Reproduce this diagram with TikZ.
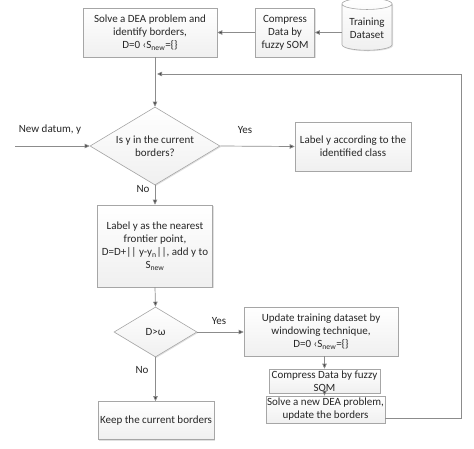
\documentclass[tikz,border=0pt]{standalone}
\usepackage{fontspec}
\setmainfont{Carlito}
\usetikzlibrary{shapes.geometric,arrows.meta,shadows}
\definecolor{bordergray}{HTML}{A6A6A6}
\definecolor{linegray}{HTML}{8C8C8C}
\definecolor{tipgray}{HTML}{404040}
\definecolor{txt}{HTML}{262626}
\begin{document}
\begin{tikzpicture}[x=1pt,y=-1pt,
  every node/.style={font=\fontsize{11}{13}\selectfont, text=txt},
  procbox/.style={draw=bordergray, line width=0.6pt, top color=white, bottom color=gray!12,
     drop shadow={shadow xshift=1pt, shadow yshift=-1pt, fill=gray!40, opacity=0.6},
     align=center, inner sep=1pt},
  decbox/.style={diamond, draw=bordergray, line width=0.6pt, top color=white, bottom color=gray!12,
     drop shadow={shadow xshift=1pt, shadow yshift=-1pt, fill=gray!40, opacity=0.6},
     align=center, inner sep=0pt, aspect=1.67},
  conn/.style={draw=linegray, line width=0.7pt, -{Triangle[length=5pt,width=4.5pt,fill=tipgray]}},
  plain/.style={draw=linegray, line width=0.7pt},
  lbl/.style={inner sep=1pt}
]
\useasboundingbox (0,0) rectangle (474,448);
% top row
\node[procbox, minimum width=134pt, minimum height=49pt] (solve) at (150,32.5)
  {Solve a DEA problem and\\identify borders,\\D=0 ‹S\textsubscript{new}=\{\}};
\node[procbox, minimum width=59pt, minimum height=49pt] (comp) at (285,32.5)
  {Compress\\Data by\\fuzzy SOM};
\node[cylinder, shape border rotate=90, draw=bordergray, line width=0.6pt,
  top color=white, bottom color=gray!12, aspect=0.3, minimum width=50pt, minimum height=52pt,
  drop shadow={shadow xshift=1pt, shadow yshift=-1pt, fill=gray!40, opacity=0.6},
  align=center, inner sep=1pt] (train) at (367,28) {Training\\Dataset};
% decision 1
\node[decbox, minimum width=130pt, minimum height=78pt] (dec1) at (155,146)
  {Is y in the current\\borders?};
\node[procbox, minimum width=116pt, minimum height=49pt] (lab1) at (353,146.5)
  {Label y according to the\\identified class};
\node[procbox, minimum width=115pt, minimum height=82pt] (lab2) at (155,246)
  {Label y as the nearest\\frontier point,\\D=D+|| y-y\textsubscript{n}||, add y to\\S\textsubscript{new}};
% decision 2
\node[decbox, minimum width=83pt, minimum height=50pt] (dec2) at (155.5,332) {D>ω};
\node[procbox, minimum width=154pt, minimum height=49pt] (upd) at (321,331.5)
  {Update training dataset by\\windowing technique,\\D=0 ‹S\textsubscript{new}=\{\}};
\node[procbox, minimum width=111pt, minimum height=24pt, inner sep=0pt] (comp2) at (324.5,381)
  {Compress Data by fuzzy\\SOM};
\node[procbox, minimum width=119pt, minimum height=27pt, inner sep=0pt] (solve2) at (325.5,409.5)
  {Solve a new DEA problem,\\update the borders};
\node[procbox, minimum width=116pt, minimum height=38pt] (keep) at (156,420.5)
  {Keep the current borders};
% coordinates
\coordinate (inp) at (15,146);
\coordinate (fbR) at (461,74);
\coordinate (fbL) at (155,74);
\coordinate (fbB) at (461,418);
% connectors
\draw[conn] (train.west |- comp.east) -- (comp.east);
\draw[conn] (comp.west) -- (solve.east);
\draw[conn] (solve.south -| fbL) -- (dec1.north);
\draw[plain] (solve2.east |- fbB) -- (fbB) -- (fbR);
\draw[conn] (fbR) -- ([xshift=2pt]fbL);
\draw[conn] (inp) -- (dec1.west);
\draw[conn] (dec1.east) -- (lab1.west);
\draw[conn] (dec1.south) -- (lab2.north);
\draw[conn] (lab2.south) -- (dec2.north);
\draw[conn] (dec2.east) -- (upd.west |- dec2.east);
\draw[conn] (dec2.south) -- (keep.north -| dec2.south);
\draw[conn] (upd.south -| comp2.north) -- (comp2.north);
\draw[conn] (comp2.south) -- (solve2.north -| comp2.south);
% labels
\node[lbl] (nd) at (50,130) {New datum, y};
\node[lbl] (y1) at (245,130) {Yes};
\node[lbl] (n1) at (143,189.5) {No};
\node[lbl] (y2) at (219,321) {Yes};
\node[lbl] (n2) at (142,370) {No};
\end{tikzpicture}
\end{document}
